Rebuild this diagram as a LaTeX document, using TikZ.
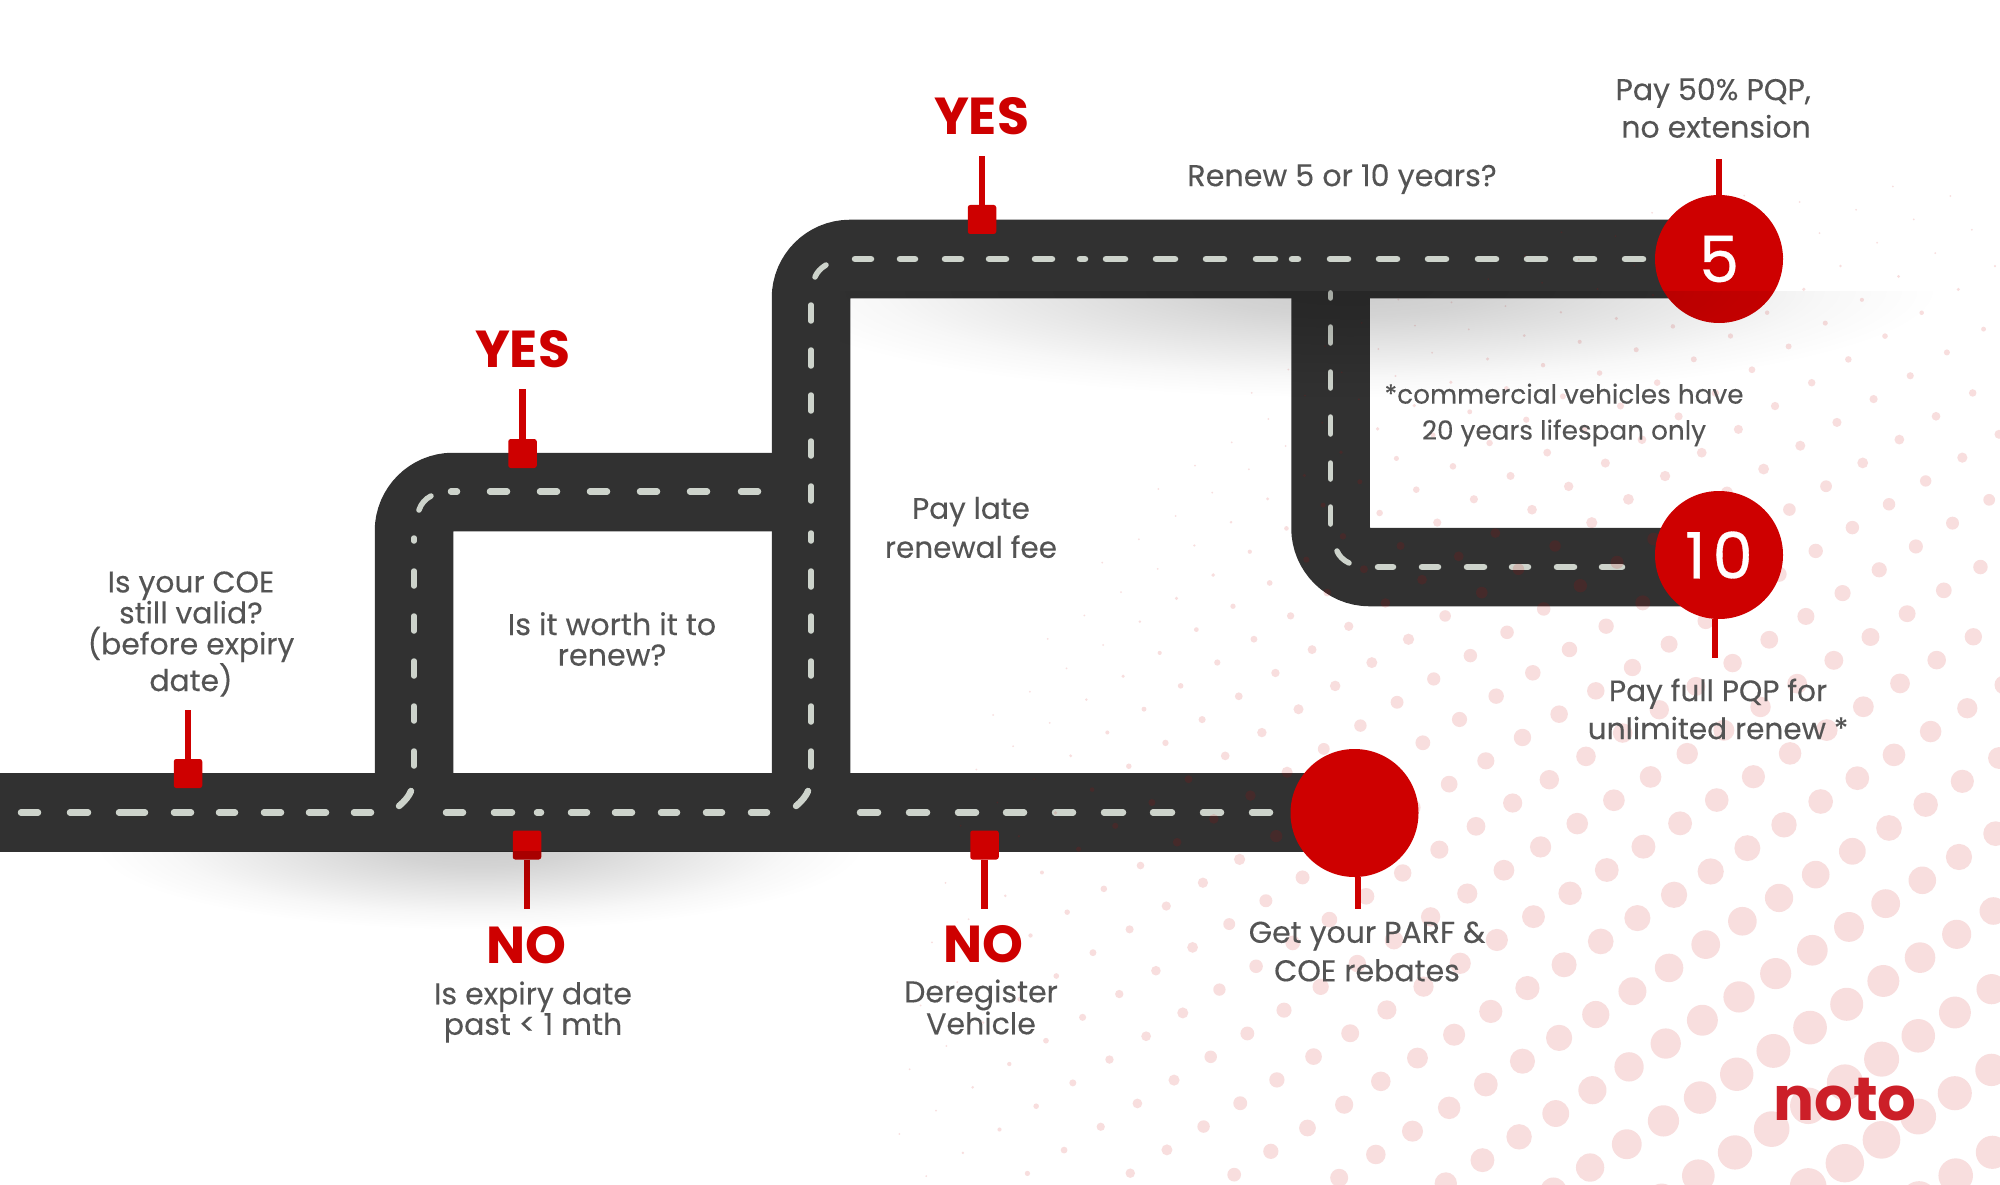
\documentclass[tikz,border=0pt]{standalone}
\usepackage{fontspec}
\setmainfont{Poppins}
\newfontfamily\numfont[FakeBold=0.5]{Poppins}
\newfontfamily\lblfont[FakeBold=0.2]{Poppins}
\definecolor{roadc}{HTML}{313131}
\definecolor{lanec}{HTML}{CDD3CB}
\definecolor{redc}{HTML}{CE0000}
\definecolor{txtc}{HTML}{545454}
\definecolor{logoc}{HTML}{CC1F28}
\pgfdeclareradialshading{softsh}{\pgfpoint{0bp}{0bp}}{rgb(0bp)=(0.80,0.80,0.80);rgb(6bp)=(0.83,0.83,0.83);rgb(13bp)=(0.90,0.90,0.90);rgb(20bp)=(0.97,0.97,0.97);rgb(25bp)=(1,1,1);rgb(50bp)=(1,1,1)}
\tikzset{
  road/.style={draw=roadc,line width=78.5pt,rounded corners=39pt},
  lane/.style={draw=lanec,line width=6.5pt,line cap=round},
  lanev/.style={draw=lanec,line width=5.5pt,line cap=round},
  dotp/.style={fill=redc,opacity=0.13},
  stem/.style={draw=redc,line width=6.5pt},
  pin/.style={fill=redc,rounded corners=2.5pt,minimum width=28.5pt,minimum height=29pt,inner sep=0pt},
  stop/.style={circle,fill=redc,minimum size=128pt,inner sep=0pt,text=white,font=\fontsize{64}{64}\selectfont\numfont},
  lbl/.style 2 args={text=txtc,align=center,inner sep=0pt,font=\fontsize{#1}{#2}\selectfont\lblfont},
  big/.style={text=redc,inner sep=0pt,font=\fontsize{52}{52}\selectfont\bfseries},
  shadow/.style={shading=softsh,blend mode=multiply},
}
\begin{document}
\begin{tikzpicture}[x=1pt,y=-1pt]
\useasboundingbox (0,0) rectangle (2000,1185);
\fill[white] (0,0) rectangle (2000,1185);
% road
\draw[road] (0,812.5) -- (1354,812.5);
\draw[road] (414,812.5) -- (414,492) -- (811,492);
\draw[road] (811,812.5) -- (811,259) -- (1719,259);
\draw[road] (1330.5,259) -- (1330.5,567) -- (1719,567);
% lane markings
\foreach \a/\b in {18/41,67/91,116/148,171/194,216/238,261/284,306/329,351/374,443/466,491/515,534/544,568/590,612/635,658/680,703/725,748/770,857/881,906/930,955/979,1003/1027,1052/1076,1101/1126,1150/1175,1200/1224,1249/1273}
  \draw[lane] ({\a+3},812.5) -- ({\b-3},812.5);
\foreach \a/\b in {448/460,487/510,537/560,587/610,637/660,687/710,738/761}
  \draw[lane] ({\a+3},491.5) -- ({\b-3},491.5);
\foreach \a/\b in {852/874,897/918,942/964,986/1009,1032/1055,1077/1088,1103/1128,1153/1178,1203/1227,1253/1278,1289/1301,1327/1351,1376/1400,1425/1449,1475/1499,1524/1548,1573/1597,1622/1646}
  \draw[lane] ({\a+3},259) -- ({\b-3},259);
\foreach \a/\b in {1375/1396,1419/1441,1464/1487,1509/1531,1554/1577,1599/1625}
  \draw[lane] ({\a+3},567) -- ({\b-3},567);
\foreach \a/\b in {535/544,568/589,613/634,658/679,703/724,748/769}
  \draw[lanev] (414,{\a+3}) -- (414,{\b-3});
\foreach \a/\b in {302/324,347/369,392/414,438/459,483/504,530/544,568/590,613/634,658/679,703/725,748/770}
  \draw[lanev] (811,{\a+3}) -- (811,{\b-3});
\foreach \a/\b in {290/301,324/346,369/391,414/437,460/482,504/527}
  \draw[lanev] (1330.5,{\a+3}) -- (1330.5,{\b-3});
\draw[lane] (399,806) .. controls (405,801) and (409,796) .. (411,791);
\draw[lane] (796,806) .. controls (802,801) and (806,796) .. (808,791);
\draw[lanev] (419,510) .. controls (421,504) and (425,499) .. (431,496);
\draw[lanev] (815,277) .. controls (817,272) and (821,268) .. (826,265);
\draw[lanev] (1337,551) .. controls (1339,556) and (1343,560) .. (1349,563);
% halftone dots
\begin{scope}
\clip (0,0) rectangle (2000,1185);
\foreach \s in {1003,1034,1066,1101,1136,1173,1212,1252,1295,1342,1390,1439,1489,1541,1596,1653,1712,1774,1838,1903,1971,2041,2112}{
  \foreach \k in {0,...,48}{
    \pgfmathsetmacro{\tt}{19.7+43.43*\k}
    \pgfmathsetmacro{\xx}{\tt*0.844+\s*0.537}
    \pgfmathsetmacro{\yy}{-\tt*0.537+\s*0.844}
    \pgfmathsetmacro{\dd}{veclen(\xx-1850,\yy-1150)}
    \pgfmathsetmacro{\rr}{max(19.5-0.0205*\dd,1)}
    \pgfmathparse{(\dd<965 && \xx>-30 && \xx<2030 && \yy>-30 && \yy<1215) ? 1 : 0}
    \ifnum\pgfmathresult=1
      \fill[dotp] (\xx,\yy) circle[radius=\rr pt];
    \fi
  }
}
\end{scope}
% stems, pins, stops
\coordinate (eCOE) at (188,710);
\coordinate (eYes1) at (522.5,389);
\coordinate (eYes2) at (982,156);
\coordinate (eNo1) at (527,909);
\coordinate (eNo2) at (984.5,909);
\coordinate (eFive) at (1719,159);
\coordinate (eTen) at (1715,658);
\coordinate (eEnd) at (1358,909);
\node[pin] (pCOE) at (188,773.5) {};
\node[pin] (pYes1) at (522.5,453.5) {};
\node[pin] (pYes2) at (982,219.5) {};
\node[pin] (pNo1) at (527,845) {};
\node[pin] (pNo2) at (984.5,845) {};
\node[stop] (sFive) at (1719,259) {5};
\node[stop] (sTen) at (1719,555) {1\kern7pt 0};
\node[stop] (sEnd) at (1354.5,813) {};
\draw[stem] (pCOE.north) -- (eCOE);
\draw[stem] (pYes1.north) -- (eYes1);
\draw[stem] (pYes2.north) -- (eYes2);
\draw[stem] (pNo1.south) -- (eNo1);
\draw[stem] (pNo2.south) -- (eNo2);
\draw[stem] (sFive.north) -- (eFive);
\draw[stem] (eTen |- sTen.south) -- (eTen);
\draw[stem] (eEnd |- sEnd.south) -- (eEnd);
% soft shadows
\begin{scope}
\clip (0,851) rectangle (2000,1000);
\path[shadow] (480,846) ellipse[x radius=385pt,y radius=84pt];
\end{scope}
\begin{scope}
\clip (840,291) rectangle (2000,430);
\path[shadow] (1350,290) ellipse[x radius=590pt,y radius=108pt];
\end{scope}
% labels
\node[big] (tYes1) at (522.5,349) {YES};
\node[big] (tYes2) at (981.5,116) {YES};
\node[big] (tNo1) at (526,945) {NO};
\node[big] (tNo2) at (983,944) {NO};
\node[lbl={29.8}{31}] (tCOE) at (191,634) {Is your COE\\still valid?\\(before expiry\\date)};
\node[lbl={30.2}{30.5}] (tWorth) at (612,639) {Is it worth it to\\renew?};
\node[lbl={29.5}{39}] (tLate) at (971,527.5) {Pay late\\renewal fee};
\node[lbl={30}{30.5}] (tExpiry) at (533,1012) {Is expiry date\\past < 1 mth};
\node[lbl={30}{30.5}] (tDereg) at (981,1007) {Deregister\\Vehicle};
\node[lbl={30.2}{30}] (tRenew) at (1342,179) {Renew 5 or 10 years?};
\node[lbl={30}{37.5},align=right,anchor=east] (tFifty) at (1811,108) {Pay 50\% PQP,\\no extension};
\node[lbl={26.3}{36}] (tComm) at (1564,415) {*commercial vehicles have\\20 years lifespan only};
\node[lbl={29.6}{38}] (tFull) at (1718,709) {Pay full PQP for\\unlimited renew *};
\node[lbl={30}{38.5}] (tParf) at (1367,951.5) {Get your PARF \&\\COE rebates};
\node[anchor=base,text=logoc,inner sep=0pt,font=\fontsize{61}{61}\selectfont\bfseries] (tLogo) at (1845,1120) {noto};
\end{tikzpicture}
\end{document}
